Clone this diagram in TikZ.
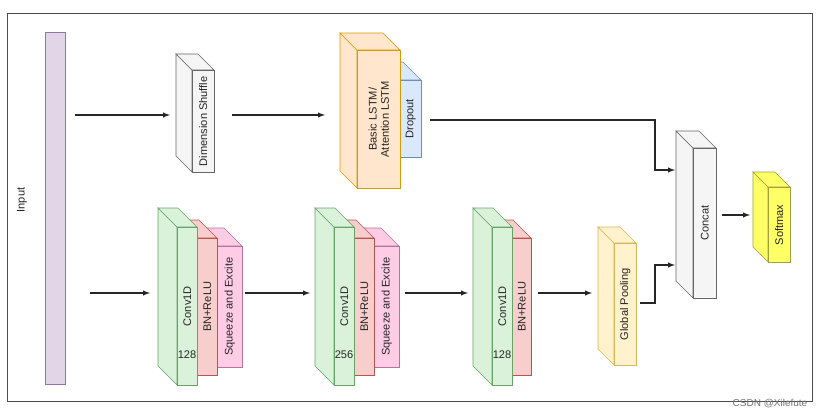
\documentclass[tikz,border=0pt]{standalone}
\usepackage{fontspec}
\setmainfont{Liberation Sans}
\begin{document}
\begin{tikzpicture}[x=0.75pt,y=-0.75pt,
  lbl/.style={rotate=90,font=\fontsize{8.3pt}{9.3pt}\selectfont,align=center,text=black!85},
  num/.style={font=\fontsize{8.3pt}{9.3pt}\selectfont,text=black!85},
  arr/.style={-latex,line width=0.8pt,black!85},
  grn/.style={fill=green!10!white!95!black,draw=green!40!black!60},
  red/.style={fill={rgb,255:red,248;green,206;blue,204},draw={rgb,255:red,184;green,84;blue,80}},
  pnk/.style={fill={rgb,255:red,255;green,204;blue,230},draw={rgb,255:red,181;green,115;blue,157}},
  org/.style={fill={rgb,255:red,255;green,230;blue,204},draw={rgb,255:red,215;green,155;blue,0}},
  blu/.style={fill={rgb,255:red,218;green,232;blue,252},draw={rgb,255:red,108;green,142;blue,191}},
  gry/.style={fill={rgb,255:red,245;green,245;blue,245},draw={rgb,255:red,102;green,102;blue,102}},
  ylw/.style={fill={rgb,255:red,255;green,242;blue,204},draw={rgb,255:red,214;green,182;blue,86}},
  yel/.style={fill={rgb,255:red,255;green,255;blue,102},draw={rgb,255:red,160;green,160;blue,60}},
  prp/.style={fill={rgb,255:red,225;green,213;blue,231},draw={rgb,255:red,150;green,115;blue,166}}]
\newcommand\mycube[8]{%
  \filldraw[#7] (#2,#3) -- ({#2-#6},{#3-#6}) -- ({#2-#6},{#5-#6}) -- (#2,#5) -- cycle;
  \filldraw[#7] (#2,#3) -- ({#2-#6},{#3-#6}) -- ({#4-#6},{#3-#6}) -- (#4,#3) -- cycle;
  \node[#7,draw,inner sep=0pt,anchor=north west,minimum width={(#4-#2)*0.75pt},minimum height={(#5-#3)*0.75pt}] (#1) at (#2,#3) {};
  \node[lbl] at (#1.center) {#8};}
\useasboundingbox (0,0) rectangle (821,415);
\draw[black!70,line width=0.6pt] (7,13) rectangle (812,401);
% input
\node[prp,draw,inner sep=0pt,anchor=north west,minimum width=15pt,minimum height=264pt] (in) at (45,32) {};
\node[lbl] (inl) at (22,200) {Input};
% top path
\mycube{ds}{192}{70}{214}{172}{16}{gry}{Dimension Shuffle}
\mycube{dp}{400}{80}{421}{157}{18}{blu}{Dropout}
\mycube{ls}{357}{50}{400}{188}{17}{org}{Basic LSTM/\\Attention LSTM}
% block 1
\mycube{se1}{217}{246}{242}{367}{18}{pnk}{Squeeze and Excite}
\mycube{bn1}{197}{238}{217}{375}{18}{red}{BN+ReLU}
\mycube{cv1}{177}{227}{197}{385}{19}{grn}{Conv1D}
\node[num] at (187,355) {128};
% block 2
\mycube{se2}{374}{246}{399}{367}{18}{pnk}{Squeeze and Excite}
\mycube{bn2}{354}{238}{374}{375}{18}{red}{BN+ReLU}
\mycube{cv2}{334}{227}{354}{385}{19}{grn}{Conv1D}
\node[num] at (344,355) {256};
% block 3
\mycube{bn3}{512}{238}{531}{375}{18}{red}{BN+ReLU}
\mycube{cv3}{492}{227}{512}{385}{19}{grn}{Conv1D}
\node[num] at (502,355) {128};
% pooling, concat, softmax
\mycube{gp}{614}{243}{636}{365}{16}{ylw}{Global Pooling}
\mycube{cc}{693}{148}{716}{298}{17}{gry}{Concat}
\mycube{sm}{768}{187}{790}{262}{15}{yel}{Softmax}
% connectors
\coordinate (s1) at (75,115);
\coordinate (s2) at (90,293);
\draw[arr] (s1) -- (170,115);
\draw[arr] (232,115) -- (325,115);
\draw[arr] (s2) -- (150,293);
\draw[arr] (245,293) -- (310,293);
\draw[arr] (405,293) -- (468,293);
\draw[arr] (538,293) -- (592,293);
\draw[arr] (430,120) -- (655,120) -- (655,170) -- (675,170);
\draw[arr] (640,303) -- (655,303) -- (655,265) -- (675,265);
\draw[arr] (722,215) -- (750,215);
\node[font=\fontsize{7.5pt}{8.5pt}\selectfont,text=black!55,anchor=east] (wm) at (812,404) {CSDN @Xilefute};
\end{tikzpicture}
\end{document}
